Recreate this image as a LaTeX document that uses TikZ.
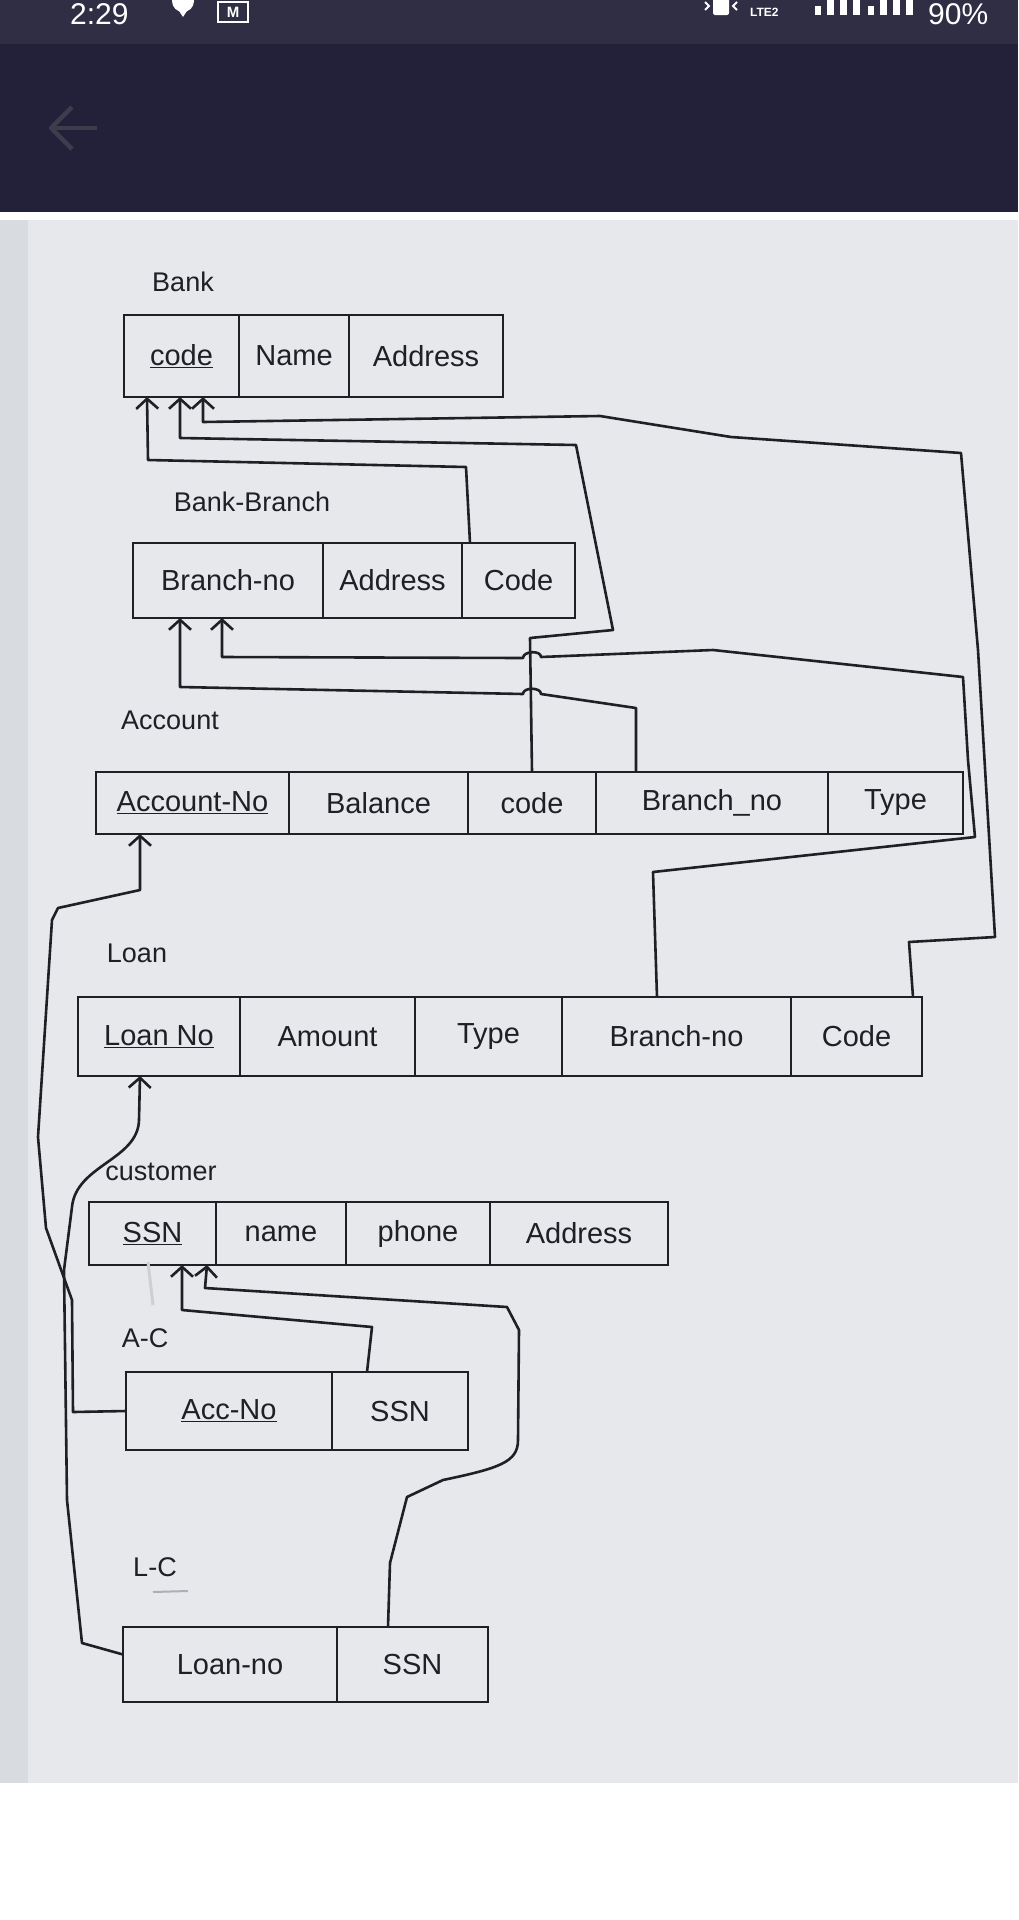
\documentclass[tikz,border=0pt]{standalone}
\usepackage{fontspec}
\setmainfont{Liberation Sans}
\usetikzlibrary{arrows.meta}
\definecolor{ink}{HTML}{1F1F25}
\definecolor{paper}{HTML}{E6E8EC}
\definecolor{paperedge}{HTML}{D8DBE0}
\definecolor{statusbar}{HTML}{302E45}
\definecolor{appbar}{HTML}{23213A}
\definecolor{backgray}{HTML}{3D3C4C}
\definecolor{smudge}{HTML}{ABAFB6}

\begin{document}
\begin{tikzpicture}[x=1pt, y=-1pt,
    cell/.style={draw=ink, line width=2.6pt, anchor=north west, inner sep=0pt, outer sep=0pt,
                 text=ink, font=\fontsize{29}{34}\selectfont},
    tname/.style={text=ink, font=\fontsize{27}{32}\selectfont, inner sep=0pt},
    fk/.style={draw=ink, line width=2.6pt, line join=round,
               -{Straight Barb[length=10pt, width=22pt]}},
    bar/.style={fill=white}
  ]
    \useasboundingbox (0,0) rectangle (1018,1920);
    \clip (0,0) rectangle (1018,1920);

    % Phone screen
    \fill[white] (0,0) rectangle (1018,1920);
    \fill[statusbar] (0,0) rectangle (1018,44);
    \fill[appbar] (0,44) rectangle (1018,212);
    \fill[paper] (0,220) rectangle (1018,1783);
    \fill[paperedge] (0,220) rectangle (28,1783);

    % Status bar
    \node[anchor=base west, text=white, font=\fontsize{30}{32}\selectfont, inner sep=0pt] (clock) at (70,24) {2:29};
    \fill[white] (172,0) -- (194,0) -- (183,17) -- cycle;
    \fill[white] (183,1) circle[radius=11];
    \node[draw=white, line width=2.5pt, text=white, font=\bfseries\fontsize{15}{15}\selectfont,
          minimum width=30pt, minimum height=20pt, inner sep=0pt] (mail) at (233,12) {M};
    \fill[white, rounded corners=2pt] (713,-6) rectangle (729,15);
    \draw[white, line width=2pt] (705,2) -- (709,6) -- (705,10);
    \draw[white, line width=2pt] (737,2) -- (733,6) -- (737,10);
    \node[anchor=base west, text=white, font=\bfseries\fontsize{12}{12}\selectfont, inner sep=0pt] (lte) at (750,16) {LTE2};
    \foreach \gx in {815, 868} {
      \fill[bar] (\gx,6) rectangle ++(6,9);
      \fill[bar] (\gx+12,-5) rectangle ++(7,20);
      \fill[bar] (\gx+25,-5) rectangle ++(7,20);
      \fill[bar] (\gx+38,-5) rectangle ++(7,20);
    }
    \node[anchor=base west, text=white, font=\fontsize{30}{32}\selectfont, inner sep=0pt] (batt) at (928,24) {90\%};

    % Back arrow
    \draw[backgray, line width=4.5pt] (97,128) -- (51,128);
    \draw[backgray, line width=4.5pt, line join=round] (72,107) -- (51,128) -- (72,149);

    % Bank
    \node[tname] (lbank) at (183,282) {Bank};
    \node[cell, minimum width=115pt, minimum height=82pt] (bcode) at (124,315) {\underline{code}};
    \node[cell, minimum width=110pt, minimum height=82pt] (bname) at (bcode.north east) {Name};
    \node[cell, minimum width=154pt, minimum height=82pt] (baddr) at (bname.north east) {Address};

    % Bank-Branch
    \node[tname] (lbb) at (252,502) {Bank-Branch};
    \node[cell, minimum width=190pt, minimum height=75pt] (bbbno) at (133,543) {Branch-no};
    \node[cell, minimum width=139pt, minimum height=75pt] (bbaddr) at (bbbno.north east) {Address};
    \node[cell, minimum width=113pt, minimum height=75pt] (bbcode) at (bbaddr.north east) {Code};

    % Account
    \node[tname] (lacc) at (170,720) {Account};
    \node[cell, minimum width=193pt, minimum height=62pt] (aano) at (96,772) {\underline{Account-No}};
    \node[cell, minimum width=179pt, minimum height=62pt] (abal) at (aano.north east) {Balance};
    \node[cell, minimum width=128pt, minimum height=62pt] (acode) at (abal.north east) {code};
    \node[cell, minimum width=232pt, minimum height=62pt] (abno) at (acode.north east) {Branch\_no};
    \node[cell, minimum width=135pt, minimum height=62pt] (atype) at (abno.north east) {Type};

    % Loan
    \node[tname] (lloan) at (137,953) {Loan};
    \node[cell, minimum width=162pt, minimum height=79pt] (lno) at (78,997) {\underline{Loan No}};
    \node[cell, minimum width=175pt, minimum height=79pt] (lamt) at (lno.north east) {Amount};
    \node[cell, minimum width=147pt, minimum height=79pt] (ltype) at (lamt.north east) {Type};
    \node[cell, minimum width=229pt, minimum height=79pt] (lbno) at (ltype.north east) {Branch-no};
    \node[cell, minimum width=131pt, minimum height=79pt] (lcode) at (lbno.north east) {Code};

    % Customer
    \node[tname] (lcust) at (161,1172) {customer};
    \node[cell, minimum width=127pt, minimum height=63pt] (cssn) at (89,1202) {\underline{SSN}};
    \node[cell, minimum width=130pt, minimum height=63pt] (cname) at (cssn.north east) {name};
    \node[cell, minimum width=144pt, minimum height=63pt] (cphone) at (cname.north east) {phone};
    \node[cell, minimum width=178pt, minimum height=63pt] (caddr) at (cphone.north east) {Address};

    % A-C
    \node[tname] (lac) at (145,1338) {A-C};
    \node[cell, minimum width=206pt, minimum height=78pt] (acacc) at (126,1372) {\underline{Acc-No}};
    \node[cell, minimum width=136pt, minimum height=78pt] (acssn) at (acacc.north east) {SSN};

    % L-C
    \node[tname] (llc) at (155,1567) {L-C};
    \node[cell, minimum width=214pt, minimum height=75pt] (lclno) at (123,1627) {Loan-no};
    \node[cell, minimum width=151pt, minimum height=75pt] (lcssn) at (lclno.north east) {SSN};

    % Faint strokes
    \draw[smudge, line width=2pt] (153,1592) -- (188,1591);
    \draw[smudge!60, line width=3pt] (148,1262) -- (153,1305);

    % Keys into Bank
    \draw[fk] ([xshift=8pt]bbcode.north west) -- (466,467) -- (148,460) -- ([xshift=23pt]bcode.south west);
    \draw[fk] ([xshift=64pt]acode.north west) -- (530,638) -- (613,630) -- (576,445)
      -- (180,438) -- ([xshift=56pt]bcode.south west);
    \draw[fk] ([xshift=122pt]lcode.north west) -- (909,942) -- (995,937) -- (978,650)
      -- (961,453) -- (731,437) -- (600,416) -- (203,422) -- ([xshift=79pt]bcode.south west);

    % Keys into Bank-Branch
    \draw[fk] ([xshift=95pt]lbno.north west) -- (653,872) -- (975,837) -- (968,760) -- (963,677)
      -- (713,650) -- (541,657) to[out=90, in=90] (523,658) -- (222,657) -- ([xshift=89pt]bbbno.south west);
    \draw[fk] ([xshift=40pt]abno.north west) -- (636,708) -- (541,694) to[out=90, in=90] (523,694)
      -- (180,687) -- ([xshift=47pt]bbbno.south west);

    % Keys into Account and Loan
    \draw[fk] (acacc.west) -- (73,1412) -- (72,1300) -- (46,1228) -- (38,1137) -- (52,920)
      -- (58,908) -- (140,890) -- ([xshift=44pt]aano.south west);
    \draw[fk] ([yshift=10pt]lclno.west) -- (82,1643) -- (67,1500) -- (64,1270) -- (72,1207)
      .. controls (76,1165) and (138,1160) .. (139,1120) -- ([xshift=62pt]lno.south west);

    % Keys into Customer
    \draw[fk] ([xshift=35pt]acssn.north west) -- (372,1327) -- (182,1310) -- ([xshift=93pt]cssn.south west);
    \draw[fk] ([xshift=51pt]lcssn.north west) -- (390,1563) -- (407,1497) -- (443,1480)
      .. controls (500,1468) and (518,1462) .. (518,1440) -- (519,1330) -- (507,1307)
      -- (205,1288) -- ([xshift=118pt]cssn.south west);
  \end{tikzpicture}
\end{document}
